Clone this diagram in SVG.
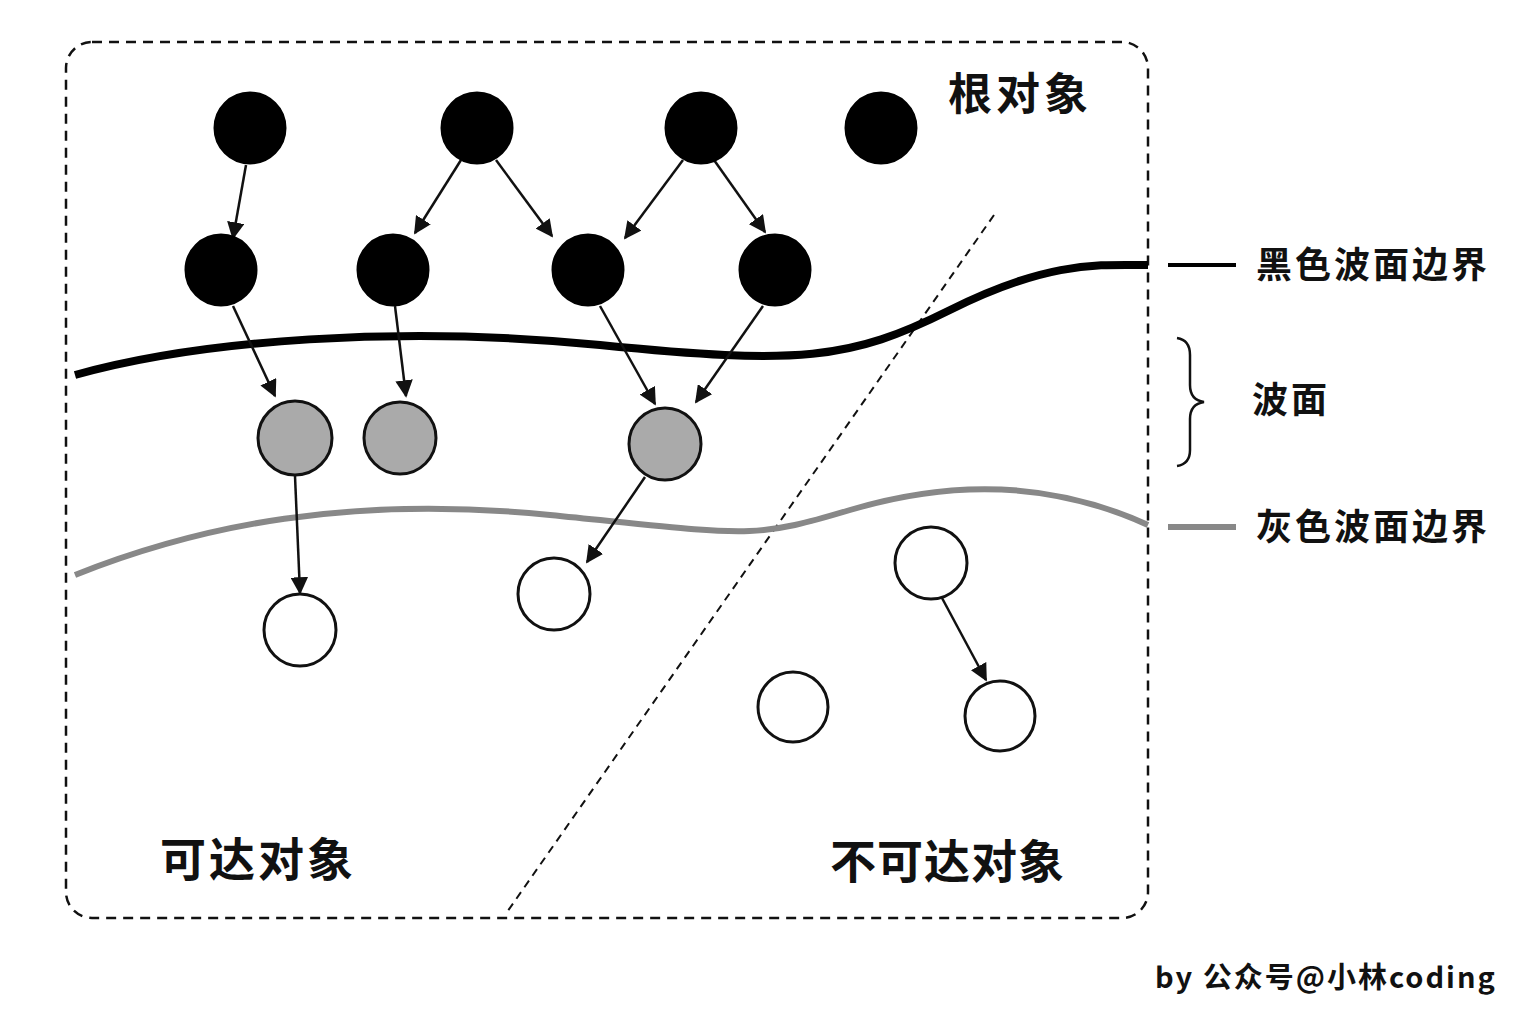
<svg xmlns="http://www.w3.org/2000/svg" width="1536" height="1024" viewBox="0 0 1536 1024">
<style>
.t{font-family:"Noto Sans CJK SC","Noto Sans",sans-serif;font-weight:bold;fill:#111}
.b{fill:#000;stroke:#000;stroke-width:3}
.g{fill:#aaa;stroke:#111;stroke-width:3}
.w{fill:#fff;stroke:#111;stroke-width:3}
.a{stroke:#111;stroke-width:2.5;fill:none;marker-end:url(#ah)}
</style>
<defs><marker id="ah" viewBox="0 0 10 10" refX="9" refY="5" markerWidth="7" markerHeight="7" orient="auto"><path d="M0,0L10,5L0,10z" fill="#111"/></marker></defs>
<rect width="1536" height="1024" fill="#fff"/>
<rect x="66" y="42" width="1082" height="876" rx="26" fill="none" stroke="#111" stroke-width="2.5" stroke-dasharray="10,7"/>
<line x1="994" y1="215" x2="505" y2="915" stroke="#111" stroke-width="2" stroke-dasharray="8,6"/>
<path d="M75,375 C200,340 400,325 600,345 S850,360 950,310 S1100,265 1148,265" fill="none" stroke="#000" stroke-width="8"/>
<path d="M75,575 C200,525 350,495 550,515 S750,540 850,510 S1050,480 1148,525" fill="none" stroke="#888" stroke-width="6"/>
<g id="connectors">
<line class="a" x1="246" y1="165" x2="233" y2="238"/>
<line class="a" x1="461" y1="160" x2="415" y2="233"/>
<line class="a" x1="496" y1="160" x2="552" y2="236"/>
<line class="a" x1="683" y1="160" x2="625" y2="238"/>
<line class="a" x1="714" y1="160" x2="765" y2="232"/>
<line class="a" x1="233" y1="306" x2="275" y2="396"/>
<line class="a" x1="395" y1="306" x2="406" y2="396"/>
<line class="a" x1="600" y1="306" x2="655" y2="404"/>
<line class="a" x1="763" y1="306" x2="696" y2="402"/>
<line class="a" x1="295" y1="476" x2="300" y2="593"/>
<line class="a" x1="645" y1="477" x2="587" y2="562"/>
<line class="a" x1="942" y1="598" x2="986" y2="680"/>
</g>
<g id="r1"><circle class="b" cx="250" cy="128" r="35"/></g>
<g id="r2"><circle class="b" cx="477" cy="128" r="35"/></g>
<g id="r3"><circle class="b" cx="701" cy="128" r="35"/></g>
<g id="r4"><circle class="b" cx="881" cy="128" r="35"/></g>
<g id="b1"><circle class="b" cx="221" cy="270" r="35"/></g>
<g id="b2"><circle class="b" cx="393" cy="270" r="35"/></g>
<g id="b3"><circle class="b" cx="588" cy="270" r="35"/></g>
<g id="b4"><circle class="b" cx="775" cy="270" r="35"/></g>
<g id="g1"><circle class="g" cx="295" cy="438" r="37"/></g>
<g id="g2"><circle class="g" cx="400" cy="438" r="36"/></g>
<g id="g3"><circle class="g" cx="665" cy="444" r="36"/></g>
<g id="w1"><circle class="w" cx="300" cy="630" r="36"/></g>
<g id="w2"><circle class="w" cx="554" cy="594" r="36"/></g>
<g id="w3"><circle class="w" cx="931" cy="563" r="36"/></g>
<g id="w4"><circle class="w" cx="793" cy="707" r="35"/></g>
<g id="w5"><circle class="w" cx="1000" cy="716" r="35"/></g>
<g id="legend">
<line x1="1168" y1="265" x2="1236" y2="265" stroke="#000" stroke-width="4"/>
<line x1="1168" y1="527" x2="1236" y2="527" stroke="#888" stroke-width="6"/>
<path d="M1177,338 Q1190,340 1190,355 L1190,385 Q1190,400 1204,402 Q1190,404 1190,419 L1190,450 Q1190,464 1177,466" fill="none" stroke="#111" stroke-width="2.5"/>
</g>
<text class="t" x="948" y="110" font-size="44" letter-spacing="4">根对象</text>
<text class="t" x="1256" y="278" font-size="36" letter-spacing="3">黑色波面边界</text>
<text class="t" x="1252" y="413" font-size="36" letter-spacing="3">波面</text>
<text class="t" x="1256" y="540" font-size="36" letter-spacing="3">灰色波面边界</text>
<text class="t" x="160" y="876" font-size="46" letter-spacing="3">可达对象</text>
<text class="t" x="830" y="878" font-size="46" letter-spacing="1">不可达对象</text>
<text class="t" x="1155" y="988" font-size="29" letter-spacing="2">by 公众号@小林coding</text>
</svg>
